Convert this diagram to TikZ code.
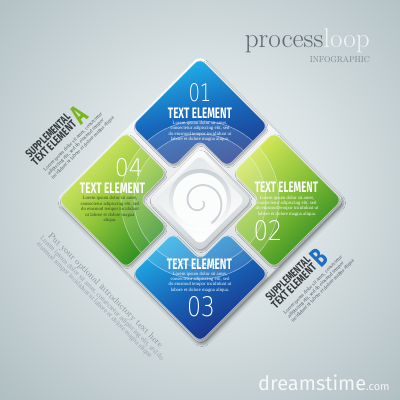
\documentclass[tikz,border=0pt]{standalone}
\usepackage{fontspec}
\usepackage{graphicx}
\usetikzlibrary{shadows,shadows.blur}
\newfontfamily\bodyfont{Liberation Serif}
\IfFontExistsTF{FiraSansExtraCondensed-Bold.otf}
 {\newfontfamily\condfont{FiraSansExtraCondensed-Bold.otf}}
 {\IfFontExistsTF{FiraSansCondensed-Bold.otf}
   {\newfontfamily\condfont{FiraSansCondensed-Bold.otf}}
   {\newfontfamily\condfontbase{Fira Sans}[FakeStretch=0.7]\def\condfont{\condfontbase\bfseries}}}
\IfFontExistsTF{FiraSans-Thin.otf}
 {\newfontfamily\thinfont{FiraSans-Thin.otf}}
 {\IfFontExistsTF{FiraSans-UltraLight.otf}
   {\newfontfamily\thinfont{FiraSans-UltraLight.otf}}
   {\IfFontExistsTF{FiraSans-ExtraLight.otf}
     {\newfontfamily\thinfont{FiraSans-ExtraLight.otf}}
     {\IfFontExistsTF{DejaVu Sans ExtraLight}
       {\newfontfamily\thinfont{DejaVu Sans ExtraLight}}
       {\newfontfamily\thinfont{Fira Sans}}}}}
\IfFontExistsTF{FiraSans-Light.otf}
 {\newfontfamily\lightfont{FiraSans-Light.otf}}
 {\newfontfamily\lightfont{Fira Sans}}

\definecolor{bg0}{HTML}{EEF3F4}
\definecolor{bg1}{HTML}{DCE4E6}
\definecolor{bg2}{HTML}{B5C3C7}
\definecolor{bg3}{HTML}{93A6AA}
\definecolor{bg4}{HTML}{748A8E}
\definecolor{t1a}{HTML}{22B6EC}\definecolor{t1m}{HTML}{1769BC}\definecolor{t1b}{HTML}{1E3588}
\definecolor{t3a}{HTML}{20AEE6}\definecolor{t3m}{HTML}{1763B6}\definecolor{t3b}{HTML}{1B287E}
\definecolor{t4a}{HTML}{E2EE70}\definecolor{t4m}{HTML}{94C73A}\definecolor{t4b}{HTML}{2C8E22}
\definecolor{t2a}{HTML}{D6E85A}\definecolor{t2m}{HTML}{82BE36}\definecolor{t2b}{HTML}{27851F}
\definecolor{hubb}{HTML}{C9D0D3}
\definecolor{hubc}{HTML}{E3E7E9}
\definecolor{hubline}{HTML}{CDD3D6}
\definecolor{basebot}{HTML}{CDD4D7}
\definecolor{titledark}{HTML}{5F6A6E}
\definecolor{titlelight}{HTML}{F0F4F5}
\definecolor{infog}{HTML}{7D898D}
\definecolor{suptext}{HTML}{33393C}
\definecolor{supbody}{HTML}{4F585C}
\definecolor{agreen}{HTML}{7AB51D}
\definecolor{bblue}{HTML}{1F6EC2}
\definecolor{introc}{HTML}{869296}
\definecolor{introb}{HTML}{97A3A7}
\definecolor{darkbody}{HTML}{3A4A1C}

\pgfdeclareradialshading{bgshade}{\pgfpoint{0bp}{0bp}}{color(0bp)=(bg0); color(5bp)=(bg1); color(12bp)=(bg2); color(19bp)=(bg3); color(25bp)=(bg4); color(50bp)=(bg4)}

\begin{document}
\begin{tikzpicture}[x=1pt,y=-1pt,
  body/.style={inner sep=0pt, align=center, text=white, font=\bodyfont\fontsize{4.8}{5.4}\selectfont},
  hd/.style={inner sep=0pt, text=white},
  num/.style={inner sep=0pt, text=white},
  supbodys/.style={inner sep=0pt, align=left, text=supbody, font=\bodyfont\fontsize{5}{5.5}\selectfont},
  tileshadow/.style={blur shadow={shadow xshift=1.2pt, shadow yshift=-1.6pt, shadow opacity=35, shadow blur steps=5}},
  tileedge/.style={draw=white, draw opacity=.6, line width=.6pt},
  ringA/.style={white, opacity=.13},
  ringB/.style={white, opacity=.09},
  ringline/.style={white, opacity=.45, line width=.6pt},
  tileA/.style={insert path={(200,58) -- (268,126) -- (227,167) -- (200,140) -- (173,167) -- (132,126) -- cycle}},
  tileB/.style={insert path={(274,132) -- (342,200) -- (274,268) -- (233,227) -- (260,200) -- (233,173) -- cycle}},
  tileC/.style={insert path={(200,342) -- (132,274) -- (173,233) -- (200,260) -- (227,233) -- (268,274) -- cycle}},
  tileD/.style={insert path={(58,200) -- (126,132) -- (167,173) -- (140,200) -- (167,227) -- (126,268) -- cycle}}
]
\useasboundingbox (0,0) rectangle (400,400);
\clip (0,0) rectangle (400,400);
% background
\shade[shading=bgshade] (205,190) circle (560pt);

% base plate
\shade[blur shadow={shadow xshift=2pt, shadow yshift=-3pt, shadow opacity=30, shadow blur steps=6},
  rounded corners=8pt, top color=white, bottom color=basebot]
  (200,55) -- (345,200) -- (200,345) -- (55,200) -- cycle;

% tile 01
\shade[tileshadow, rounded corners=7pt, tileA, top color=t1a, bottom color=t1b, middle color=t1m, shading angle=15];
\begin{scope}
  \clip[rounded corners=7pt, tileA];
  \fill[ringA] (200,200) circle (79pt);
  \fill[ringB] (200,200) circle (66pt);
  \draw[ringline] (200,200) circle (79pt);
  \draw[ringline] (200,200) circle (66pt);
\end{scope}
\path[tileedge, rounded corners=7pt, tileA];

% tile 02
\shade[tileshadow, rounded corners=7pt, tileB, top color=t2a, bottom color=t2b, middle color=t2m, shading angle=45];
\begin{scope}
  \clip[rounded corners=7pt, tileB];
  \fill[ringA] (200,200) circle (79pt);
  \fill[ringB] (200,200) circle (66pt);
  \draw[ringline] (200,200) circle (79pt);
  \draw[ringline] (200,200) circle (66pt);
\end{scope}
\path[tileedge, rounded corners=7pt, tileB];

% tile 03
\shade[tileshadow, rounded corners=7pt, tileC, top color=t3a, bottom color=t3b, middle color=t3m, shading angle=30];
\begin{scope}
  \clip[rounded corners=7pt, tileC];
  \fill[ringA] (200,200) circle (79pt);
  \fill[ringB] (200,200) circle (66pt);
  \draw[ringline] (200,200) circle (79pt);
  \draw[ringline] (200,200) circle (66pt);
\end{scope}
\path[tileedge, rounded corners=7pt, tileC];

% tile 04
\shade[tileshadow, rounded corners=7pt, tileD, top color=t4a, bottom color=t4b, middle color=t4m, shading angle=45];
\begin{scope}
  \clip[rounded corners=7pt, tileD];
  \fill[ringA] (200,200) circle (79pt);
  \fill[ringB] (200,200) circle (66pt);
  \draw[ringline] (200,200) circle (79pt);
  \draw[ringline] (200,200) circle (66pt);
\end{scope}
\path[tileedge, rounded corners=7pt, tileD];

% hub
\shade[blur shadow={shadow xshift=1.2pt, shadow yshift=-1.6pt, shadow opacity=30, shadow blur steps=5},
  rounded corners=7pt, top color=white, bottom color=hubb, shading angle=20]
  (200,148) -- (252,200) -- (200,252) -- (148,200) -- cycle;
\shade[rounded corners=6pt, top color=hubc, bottom color=white, shading angle=20]
  (200,155) -- (245,200) -- (200,245) -- (155,200) -- cycle;
\shade[top color=hubb, bottom color=white] (200,200) circle (31pt);
\fill[white!93!hubb] (200,200) circle (27pt);
\draw[hubline, line width=2.2pt, line cap=round, domain=0:420, samples=70, smooth, variable=\t]
  plot ({200+(3+\t/20)*cos(\t)}, {202+(3+\t/20)*sin(\t)});
\draw[white, line width=1.2pt, line cap=round, domain=10:400, samples=70, smooth, variable=\t]
  plot ({200+(1.5+\t/20)*cos(\t)}, {202+(1.5+\t/20)*sin(\t)});

% tile texts
\node[num] (n1) at (200,93) {\resizebox{23pt}{18pt}{\thinfont 01}};
\node[hd] (h1) at (200,113) {\resizebox{64pt}{10.5pt}{\condfont TEXT ELEMENT}};
\node[body] (b1) at (200,131.5) {Lorem ipsum dolor sit amet,\\consectetur adipiscing elit, sed\\do eiusmod tempor incididunt ut\\labore et dolore magna aliqua.};

\node[num] (n4) at (129,168) {\resizebox{28pt}{18pt}{\thinfont 04}};
\node[hd] (h4) at (112.5,188) {\resizebox{65pt}{10.5pt}{\condfont TEXT ELEMENT}};
\node[body, text=darkbody] (b4) at (110,209.5) {Lorem ipsum dolor sit amet,\\consectetur adipiscing elit, sed\\do eiusmod tempor incididunt\\ut labore et dolore magna\\aliqua.};

\node[hd] (h2) at (286.5,187.5) {\resizebox{63pt}{10.5pt}{\condfont TEXT ELEMENT}};
\node[body] (b2) at (287,206) {Lorem ipsum dolor sit amet,\\consectetur adipiscing elit, sed\\do eiusmod tempor incididunt ut\\labore et dolore magna aliqua.};
\node[num] (n2) at (268,231) {\resizebox{29pt}{20pt}{\thinfont 02}};

\node[hd] (h3) at (199.5,264) {\resizebox{65pt}{10.5pt}{\condfont TEXT ELEMENT}};
\node[body] (b3) at (200,282) {Lorem ipsum dolor sit amet,\\consectetur adipiscing elit, sed\\do eiusmod tempor incididunt ut\\labore et dolore magna aliqua.};
\node[num] (n3) at (201,307) {\resizebox{28pt}{20pt}{\thinfont 03}};

% title
\node[anchor=base east, inner sep=0pt] (title) at (370,47)
  {\resizebox{125pt}{!}{\fontsize{21}{21}\selectfont\color{titledark}process\color{titlelight}loop}};
\node[anchor=base east, inner sep=0pt, text=infog] (info) at (370,62)
  {\resizebox{60pt}{6pt}{\fontsize{8}{8}\selectfont INFOGRAPHIC}};

% supplemental A
\begin{scope}[shift={(30,159)}, rotate=45, transform shape]
  \node[anchor=base west, inner sep=0pt, text=suptext] (sa1) at (0,0) {\resizebox{58pt}{8pt}{\condfont SUPPLEMENTAL}};
  \node[anchor=base west, inner sep=0pt, text=suptext] (sa2) at (-1,9.5) {\resizebox{58pt}{8pt}{\condfont TEXT ELEMENT}};
  \node[anchor=base west, inner sep=0pt, text=agreen] (sa3) at (60,12.5) {\resizebox{!}{19pt}{\condfont A}};
  \node[supbodys, anchor=north west] (sa4) at (2,16) {Lorem ipsum dolor sit amet, consectetur\\adipiscing elit, sed do eiusmod tempor\\incididunt ut labore et dolore magna aliqua};
\end{scope}

% supplemental B
\begin{scope}[shift={(270,302)}, rotate=45, transform shape]
  \node[anchor=base west, inner sep=0pt, text=suptext] (sb1) at (0,0) {\resizebox{58pt}{8pt}{\condfont SUPPLEMENTAL}};
  \node[anchor=base west, inner sep=0pt, text=suptext] (sb2) at (-1,9.5) {\resizebox{58pt}{8pt}{\condfont TEXT ELEMENT}};
  \node[anchor=base west, inner sep=0pt, text=bblue] (sb3) at (60,12.5) {\resizebox{!}{19pt}{\condfont B}};
  \node[supbodys, anchor=north west] (sb4) at (2,16) {Lorem ipsum dolor sit amet, consectetur\\adipiscing elit, sed do eiusmod tempor\\incididunt ut labore et dolore magna aliqua};
\end{scope}

% intro text
\begin{scope}[shift={(52,232)}, rotate=-45, transform shape]
  \node[anchor=base west, inner sep=0pt, text=introc] (it1) at (0,6) {\resizebox{158pt}{!}{Put your optional introductory text here}};
  \node[anchor=base west, inner sep=0pt, text=introb] (it2) at (-4,13.5) {\resizebox{172pt}{!}{\bodyfont Lorem ipsum dolor sit amet, consectetur adipiscing elit, sed do}};
  \node[anchor=base west, inner sep=0pt, text=introb] (it3) at (-2,20) {\resizebox{160pt}{!}{\bodyfont eiusmod tempor incididunt ut labore et dolore magna aliqua}};
\end{scope}

% watermark
\node[anchor=base west, inner sep=0pt, text=white, opacity=.85] (wm) at (258,390)
  {\resizebox{108pt}{!}{\lightfont dreamstime}{\lightfont\fontsize{11}{11}\selectfont .com}};
\end{tikzpicture}
\end{document}
